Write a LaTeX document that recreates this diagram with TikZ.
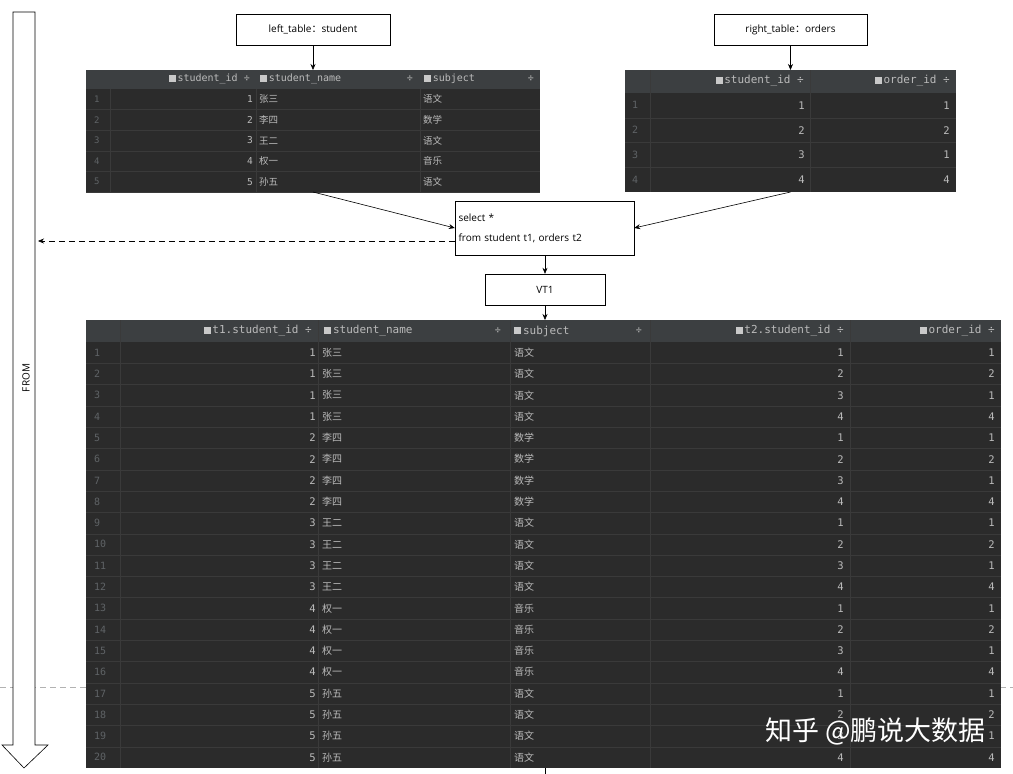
\documentclass[tikz,border=0pt]{standalone}
\usepackage{fontspec}
\setmainfont{Open Sans}
\newfontfamily\cjk{Noto Sans CJK SC}
\newfontfamily\mono{DejaVu Sans Mono}
\usetikzlibrary{arrows.meta}
\definecolor{tbg}{HTML}{2B2B2B}
\definecolor{thd}{HTML}{3C3F41}
\definecolor{tln}{HTML}{3A3A3A}
\definecolor{ttx}{HTML}{BBBBBB}
\definecolor{tnum}{HTML}{5F6366}
\tikzset{x=1pt,y=-1pt,
 lbl/.style={draw,fill=white,inner sep=0pt,font=\fontsize{10}{12}\selectfont},
 arr/.style={-{Stealth[length=6pt,width=5pt]},line width=0.6pt},
 cell/.style={font=\mono\fontsize{9.5}{10}\selectfont,text=ttx,inner sep=2pt},
 ccell/.style={font=\cjk\fontsize{9.5}{10}\selectfont,text=ttx,inner sep=2pt},
 ncell/.style={font=\mono\fontsize{9}{10}\selectfont,text=tnum,inner sep=2pt},
 hcell/.style={font=\mono\fontsize{10}{10}\selectfont,text=ttx,inner sep=2pt}}
\newcommand\hicon{\textcolor{ttx!80}{\rule{7pt}{7pt}}\,}
\begin{document}
\begin{tikzpicture}
\useasboundingbox (0,0) rectangle (1013,774);
\fill[white] (0,0) rectangle (1013,774);
% dashed horizontal line
\draw[gray!60,dashed,dash pattern=on 6pt off 4pt] (0,687) -- (1013,687);
% FROM arrow
\draw[fill=white,line width=0.6pt] (13,12) -- (35,12) -- (35,745) -- (48,745) -- (24,768) -- (2,745) -- (13,745) -- cycle;
\node[rotate=90,font=\fontsize{10}{12}\selectfont] (from) at (26,378) {FROM};
% labels
\node[lbl,minimum width=154pt,minimum height=31pt] (lt) at (313,29.5) {left\_table{\cjk ：}student};
\node[lbl,minimum width=153pt,minimum height=31pt] (rt) at (790.5,29.5) {right\_table{\cjk ：}orders};
% left table
\node[fill=tbg,minimum width=454pt,minimum height=122pt,inner sep=0pt] (ltab) at (313,131) {};
\fill[thd] (86,70) rectangle (540,89);
\foreach \i in {1,...,5}{\draw[tln] (86,{89+20.6*\i}) -- (540,{89+20.6*\i});}
\foreach \x in {110,256,420}{\draw[tln] (\x,89) -- (\x,192);}
\node[hcell,anchor=east] at (252,79) {\hicon student\_id ÷};
\node[hcell,anchor=west] at (258,79) {\hicon student\_name};
\node[hcell] at (410,79) {÷};
\node[hcell,anchor=west] at (422,79) {\hicon subject};
\node[hcell] at (531,79) {÷};
\foreach \n/\nm/\s [count=\i] in {1/张三/语文,2/李四/数学,3/王二/语文,4/权一/音乐,5/孙五/语文}{
 \pgfmathsetmacro\yy{89+20.6*\i-10.3}
 \node[ncell,anchor=west] at (92,\yy) {\i};
 \node[cell,anchor=east] at (255,\yy) {\n};
 \node[ccell,anchor=west] at (257,\yy) {\nm};
 \node[ccell,anchor=west] at (421,\yy) {\s};}
% right table
\node[fill=tbg,minimum width=331pt,minimum height=122pt,inner sep=0pt] (rtab) at (790.5,131) {};
\fill[thd] (625,70) rectangle (956,93);
\foreach \i in {1,...,3}{\draw[tln] (625,{93+24.75*\i}) -- (956,{93+24.75*\i});}
\foreach \x in {650,810}{\draw[tln] (\x,70) -- (\x,192);}
\node[hcell,anchor=east,font=\mono\fontsize{11}{12}\selectfont] at (806,81) {\hicon student\_id ÷};
\node[hcell,anchor=east,font=\mono\fontsize{11}{12}\selectfont] at (952,81) {\hicon order\_id ÷};
\foreach \a/\b [count=\i] in {1/1,2/2,3/1,4/4}{
 \pgfmathsetmacro\yy{93+24.75*\i-12.4}
 \node[ncell,anchor=west,font=\mono\fontsize{10}{10}\selectfont] at (630,\yy) {\i};
 \node[cell,anchor=east,font=\mono\fontsize{10.5}{10}\selectfont] at (807,\yy) {\a};
 \node[cell,anchor=east,font=\mono\fontsize{10.5}{10}\selectfont] at (952,\yy) {\b};}
% sql box
\node[lbl,minimum width=179pt,minimum height=54pt,align=left,text width=172pt,inner sep=3pt,font=\fontsize{10}{20}\selectfont] (sql) at (544.5,228) {select *\\from student t1, orders t2};
\node[lbl,minimum width=120pt,minimum height=31pt] (vt1) at (545,289.5) {VT1};
% big table
\node[fill=tbg,minimum width=915pt,minimum height=448pt,inner sep=0pt] (btab) at (543.5,544) {};
\fill[thd] (86,320) rectangle (1001,342);
\foreach \i in {1,...,19}{\draw[tln] (86,{342+21.3*\i}) -- (1001,{342+21.3*\i});}
\foreach \x in {120,318,510,650,850}{\draw[tln] (\x,320) -- (\x,768);}
\node[hcell,anchor=east,font=\mono\fontsize{11}{12}\selectfont] at (314,331) {\hicon t1.student\_id ÷};
\node[hcell,anchor=west,font=\mono\fontsize{11}{12}\selectfont] at (322,331) {\hicon student\_name};
\node[hcell] at (498,331) {÷};
\node[hcell,anchor=west,font=\mono\fontsize{11}{12}\selectfont] at (512,331) {\hicon subject};
\node[hcell] at (639,331) {÷};
\node[hcell,anchor=east,font=\mono\fontsize{11}{12}\selectfont] at (846,331) {\hicon t2.student\_id ÷};
\node[hcell,anchor=east,font=\mono\fontsize{11}{12}\selectfont] at (997,331) {\hicon order\_id ÷};
\foreach \a/\nm/\s [count=\k] in {1/张三/语文,2/李四/数学,3/王二/语文,4/权一/音乐,5/孙五/语文}{
 \foreach \c/\d [count=\j] in {1/1,2/2,3/1,4/4}{
  \pgfmathtruncatemacro\r{(\k-1)*4+\j}
  \pgfmathsetmacro\yy{342+21.3*\r-10.65}
  \node[ncell,anchor=west,font=\mono\fontsize{10}{10}\selectfont] at (92,\yy) {\r};
  \node[cell,anchor=east,font=\mono\fontsize{10.5}{10}\selectfont] at (318,\yy) {\a};
  \node[ccell,anchor=west,font=\cjk\fontsize{10}{10}\selectfont] at (320,\yy) {\nm};
  \node[ccell,anchor=west,font=\cjk\fontsize{10}{10}\selectfont] at (512,\yy) {\s};
  \node[cell,anchor=east,font=\mono\fontsize{10.5}{10}\selectfont] at (846,\yy) {\c};
  \node[cell,anchor=east,font=\mono\fontsize{10.5}{10}\selectfont] at (997,\yy) {\d};}}
% watermark
\node[font=\cjk\fontsize{27}{30}\selectfont,text=white,anchor=east,inner sep=0pt] (wm) at (986,731) {知乎 @鹏说大数据};
% connectors
\draw[arr] (lt.south) -- (313,70);
\draw[arr] (rt.south) -- (790.5,70);
\draw[arr] (313,192) -- (sql.west);
\draw[arr] (790.5,192) -- (sql.east);
\coordinate (dl) at (38,241);
\draw[arr,dashed,dash pattern=on 6pt off 4pt] (sql.west |- 0,241) -- (dl);
\draw[arr] (sql.south -| vt1.north) -- (vt1.north);
\draw[arr] (vt1.south) -- (545,320);
\draw[line width=0.6pt] (545,768) -- (545,774);
\end{tikzpicture}
\end{document}
